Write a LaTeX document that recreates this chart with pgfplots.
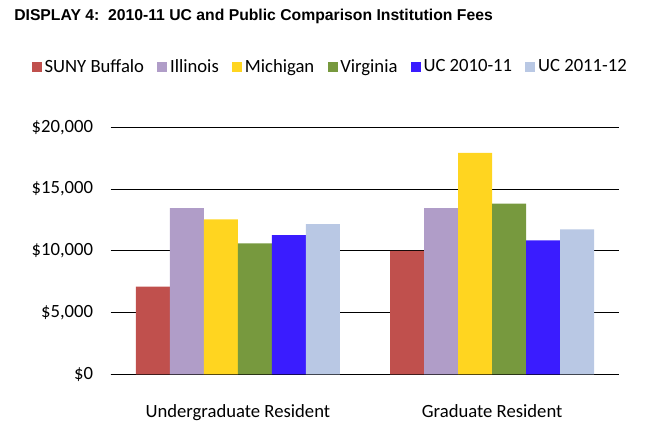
\documentclass[border=0pt]{standalone}
\usepackage{fontspec}
\setmainfont{Carlito}
\newfontfamily\titlefont{Liberation Sans}
\usepackage{pgfplots}
\pgfplotsset{compat=1.18}

\definecolor{cRed}{HTML}{C0504D}
\definecolor{cLav}{HTML}{B09DC8}
\definecolor{cYel}{HTML}{FFD520}
\definecolor{cGrn}{HTML}{77993E}
\definecolor{cBlu}{HTML}{3A1CFF}
\definecolor{cLbl}{HTML}{B9C8E4}

\begin{document}
\begin{tikzpicture}
\useasboundingbox (0,0) rectangle (486pt,318pt);
\node[anchor=base west, inner sep=0pt] at (10.5pt,302.5pt)
  {\titlefont\fontsize{11.8pt}{13pt}\selectfont\bfseries DISPLAY 4:\ \ 2010-11 UC and Public Comparison Institution Fees};
\begin{axis}[
    at={(83pt,37.3pt)}, anchor=south west,
    scale only axis,
    width=381.5pt, height=185.25pt,
    ybar=0pt, bar width=25.5pt,
    xmin=-0.5, xmax=1.5,
    ymin=0, ymax=20000,
    scaled y ticks=false,
    xtick={0,1},
    xticklabels={Undergraduate Resident, Graduate Resident},
    major x tick style={draw=none},
    extra x ticks={-0.5,0.5,1.5},
    extra x tick labels={},
    extra x tick style={tick align=outside, major tick length=4pt, tick style={black, line width=0.6pt}},
    ytick={0,5000,10000,15000,20000},
    yticklabels={\$0,\$5{,}000,\$10{,}000,\$15{,}000,\$20{,}000},
    ymajorgrids,
    grid style={black, line width=0.6pt},
    axis x line*=bottom, axis y line*=left,
    x axis line style={black, line width=0.6pt, -},
    y axis line style={draw=none},
    major y tick style={draw=none},
    tick label style={font=\fontsize{14pt}{16pt}\selectfont},
    yticklabel style={inner sep=0pt, xshift=-13pt},
    xticklabel style={anchor=base, inner sep=0pt, yshift=-28pt},
    legend columns=6,
    legend style={at={(-0.1553,1.245)}, anchor=west, draw=none, fill=none,
      inner sep=0pt, font=\fontsize{14pt}{16pt}\selectfont,
      /tikz/every even column/.append style={column sep=8pt}},
    legend cell align=left,
    legend image code/.code={\fill[#1] (0pt,-3.75pt) rectangle (7.5pt,3.75pt);},
]
\addplot[fill=cRed, draw=none] coordinates {(0,7100) (1,10000)};
\addplot[fill=cLav, draw=none] coordinates {(0,13450) (1,13450)};
\addplot[fill=cYel, draw=none] coordinates {(0,12550) (1,17920)};
\addplot[fill=cGrn, draw=none] coordinates {(0,10600) (1,13810)};
\addplot[fill=cBlu, draw=none] coordinates {(0,11260) (1,10850)};
\addplot[fill=cLbl, draw=none] coordinates {(0,12150) (1,11740)};
\legend{SUNY Buffalo, Illinois, Michigan, Virginia, UC 2010-11, UC 2011-12}
\end{axis}
\end{tikzpicture}
\end{document}
